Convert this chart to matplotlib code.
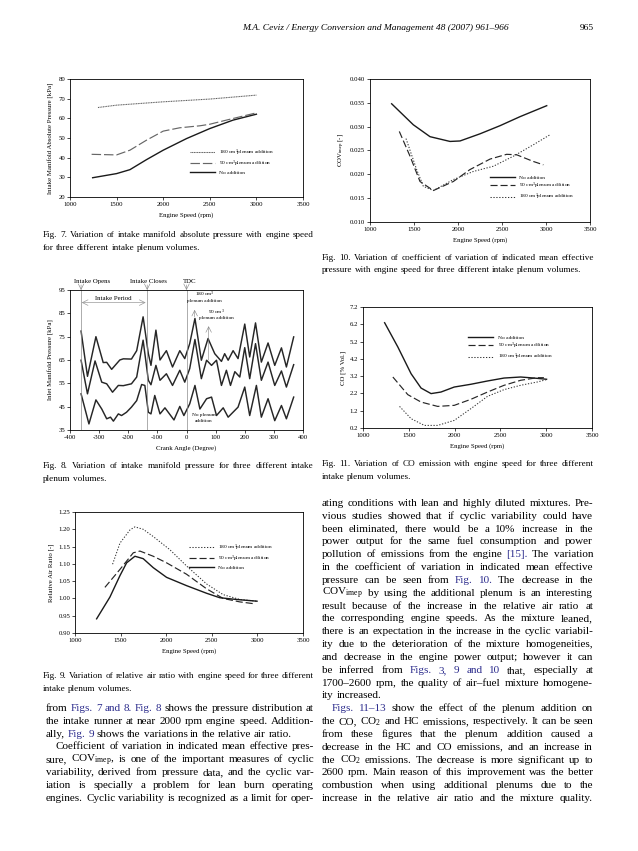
import matplotlib
matplotlib.use("Agg")
import matplotlib.pyplot as plt

plt.rcParams["font.family"] = ["Liberation Serif", "DejaVu Serif"]
plt.rcParams["mathtext.fontset"] = "custom"
plt.rcParams["mathtext.rm"] = "Liberation Serif"
plt.rcParams["mathtext.it"] = "Liberation Serif:italic"
plt.rcParams["axes.unicode_minus"] = False

W, H = 638, 851
LINK = "#2b2b8c"

# ---- Fig. 7 : intake manifold absolute pressure ----
f7_rpm_180 = [1300, 1500, 2000, 2500, 3000]
f7_p_180 = [65.5, 66.7, 68.4, 69.8, 71.8]
f7_rpm_90 = [1232, 1500, 1643, 1821, 2000, 2178, 2393, 2500, 2678, 3000]
f7_p_90 = [41.7, 41.4, 43.8, 48.9, 53.5, 55.2, 56.2, 57.0, 59.1, 62.8]
f7_rpm_no = [1243, 1500, 1643, 1821, 2000, 2250, 2500, 2750, 3000]
f7_p_no = [29.8, 31.9, 33.9, 39.0, 43.8, 49.7, 54.8, 59.1, 62.1]

# ---- Fig. 10 : COV imep ----
f10_rpm_no = [1246, 1492, 1682, 1909, 2023, 2250, 2477, 2705, 3008]
f10_cov_no = [0.0348, 0.0304, 0.0279, 0.0269, 0.0270, 0.0285, 0.0302, 0.0321, 0.0344]
f10_rpm_90 = [1333, 1455, 1568, 1720, 1947, 2136, 2364, 2553, 2667, 2856, 2970]
f10_cov_90 = [0.0290, 0.0238, 0.0185, 0.0166, 0.0185, 0.0210, 0.0232, 0.0242, 0.0241, 0.0227, 0.0220]
f10_rpm_180 = [1409, 1530, 1606, 1720, 1947, 2174, 2402, 2629, 2856, 3045]
f10_cov_180 = [0.0275, 0.0210, 0.0175, 0.0166, 0.0189, 0.0206, 0.0217, 0.0238, 0.0262, 0.0283]

# ---- Fig. 8 : manifold pressure vs crank angle ----
f8_ca_180 = [-362, -340, -311, -286, -274, -257, -229, -217, -189, -171, -149, -131, -122, -105,
             -91, -69, -48, -23, -6, 11, 29, 51, 74, 97, 120, 131, 143, 160, 177, 200, 217,
             237, 257, 280, 303, 326, 343, 368]
f8_p_180 = [77.4, 58.0, 75.0, 63.9, 64.0, 61.0, 65.0, 65.5, 65.4, 69.0, 83.5, 67.7, 62.7, 77.8,
            65.0, 69.0, 62.0, 69.0, 65.6, 72.0, 82.8, 64.9, 74.2, 67.7, 64.4, 67.7, 64.9, 69.0,
            65.6, 80.4, 66.3, 80.9, 64.1, 72.3, 62.7, 70.2, 62.0, 74.9]
f8_ca_90 = [-362, -340, -314, -291, -274, -254, -234, -217, -189, -171, -149, -131, -122, -105,
            -91, -69, -48, -23, -6, 11, 29, 51, 69, 86, 103, 120, 137, 151, 166, 183, 200, 217,
            237, 257, 280, 303, 326, 343, 368]
f8_p_90 = [64.9, 50.5, 64.6, 55.5, 54.8, 51.2, 54.1, 54.0, 54.8, 57.7, 73.5, 56.3, 54.4, 62.7,
           56.3, 59.1, 54.1, 60.6, 55.5, 61.3, 73.8, 57.0, 64.9, 62.7, 64.9, 54.1, 60.6, 54.1,
           60.0, 57.7, 70.3, 57.0, 72.0, 56.3, 64.1, 54.1, 60.3, 53.4, 63.0]
f8_ca_no = [-362, -335, -311, -291, -274, -261, -251, -234, -223, -206, -189, -171, -154, -143,
            -131, -122, -109, -91, -74, -43, -23, -9, 11, 29, 46, 69, 86, 103, 126, 143, 177,
            200, 217, 240, 257, 280, 303, 326, 343, 368]
f8_p_no = [50.5, 37.6, 47.9, 44.0, 39.8, 40.5, 38.8, 41.9, 41.2, 42.6, 44.8, 47.6, 54.5, 54.1,
           42.6, 41.9, 49.8, 41.9, 44.5, 39.3, 45.1, 41.2, 46.2, 54.1, 44.0, 48.4, 49.1, 41.2,
           44.5, 40.5, 44.8, 53.4, 41.2, 54.1, 40.5, 48.4, 39.0, 45.5, 39.8, 49.1]
f8_events = [-362, -135, 0]
f8_event_names = ["Intake Opens", "Intake Closes", "TDC"]
f8_label_x = [-324, -132, 12]

# ---- Fig. 11 : CO emission ----
f11_rpm_no = [1236, 1380, 1525, 1634, 1743, 1851, 1996, 2178, 2359, 2540, 2721, 2866, 3004]
f11_co_no = [6.29, 4.89, 3.34, 2.51, 2.19, 2.28, 2.57, 2.73, 2.92, 3.09, 3.15, 3.09, 3.02]
f11_rpm_90 = [1326, 1489, 1634, 1815, 1996, 2178, 2359, 2540, 2721, 2902, 2975]
f11_co_90 = [3.15, 2.13, 1.70, 1.45, 1.51, 1.86, 2.28, 2.67, 2.96, 3.11, 3.11]
f11_rpm_180 = [1399, 1525, 1670, 1815, 1996, 2178, 2359, 2540, 2721, 2902, 3004]
f11_co_180 = [1.45, 0.74, 0.35, 0.35, 0.64, 1.32, 2.03, 2.42, 2.67, 2.86, 3.00]

# ---- Fig. 9 : relative air ratio ----
f9_rpm_no = [1237, 1383, 1493, 1566, 1657, 1748, 1858, 2004, 2223, 2442, 2588, 2770, 2996]
f9_lam_no = [0.941, 1.004, 1.066, 1.103, 1.122, 1.115, 1.089, 1.061, 1.037, 1.015, 1.002, 0.997, 0.992]
f9_rpm_90 = [1328, 1493, 1639, 1712, 1858, 2004, 2223, 2442, 2624, 2807, 2953]
f9_lam_90 = [1.032, 1.084, 1.132, 1.137, 1.122, 1.103, 1.070, 1.028, 1.000, 0.990, 0.985]
f9_rpm_180 = [1412, 1493, 1602, 1657, 1748, 1858, 2040, 2223, 2442, 2624, 2807, 2996]
f9_lam_180 = [1.099, 1.160, 1.198, 1.207, 1.200, 1.179, 1.141, 1.094, 1.042, 1.011, 0.997, 0.992]

lab180 = "180 cm$^3$plenum addition"
lab90 = "90 cm$^3$plenum addition"
labno = "No addition"

SOLID = dict(color="0.1", lw=1.0, ls="-")
DASH = dict(color="0.15", lw=0.85, ls=(0, (6, 2.5)))
DOT = dict(color="0.2", lw=0.75, ls=(0, (1.2, 1.6)))

fig = plt.figure(figsize=(W / 100, H / 100), dpi=100)
renderer = fig.canvas.get_renderer()


def box(l, t, r, b):
    return fig.add_axes([l / W, 1 - b / H, (r - l) / W, (b - t) / H])


def style(ax, xlabel, ylabel):
    for s in ax.spines.values():
        s.set_linewidth(0.6)
    ax.tick_params(labelsize=4.9, length=2, width=0.5, pad=1.5, direction="out")
    ax.set_xlabel(xlabel, fontsize=4.9, labelpad=4)
    ax.set_ylabel(ylabel, fontsize=4.9, labelpad=3)


def legend(ax, x, y):
    ax.legend(loc="upper left", bbox_to_anchor=(x, y), frameon=False, fontsize=3.9,
              handlelength=4.6, handletextpad=0.8, labelspacing=0.2, borderaxespad=0,
              borderpad=0)


def ftext(x, y, s, **kw):
    return fig.text(x / W, 1 - y / H, s, **kw)


# Fig. 7
ax = box(70, 79, 303, 197)
ax.plot(f7_rpm_180, f7_p_180, label=lab180, **dict(DOT, ls=(0, (1, 0.6)), color="0.35"))
ax.plot(f7_rpm_90, f7_p_90, label=lab90, **dict(DASH, ls=(0, (8, 2.5)), color="0.4"))
ax.plot(f7_rpm_no, f7_p_no, label=labno, **SOLID)
ax.set_xlim(1000, 3500)
ax.set_ylim(20, 80)
ax.set_xticks(range(1000, 3501, 500))
ax.set_yticks(range(20, 81, 10))
style(ax, "Engine Speed (rpm)", "Intake Manifold Absolute Pressure [kPa]")
legend(ax, 0.515, 0.42)

# Fig. 10
ax = box(370, 79, 590, 222)
ax.plot(f10_rpm_no, f10_cov_no, label=labno, **SOLID)
ax.plot(f10_rpm_90, f10_cov_90, label=lab90, **DASH)
ax.plot(f10_rpm_180, f10_cov_180, label=lab180, **DOT)
ax.set_xlim(1000, 3500)
ax.set_ylim(0.010, 0.040)
ax.set_xticks(range(1000, 3501, 500))
ax.set_yticks([0.010, 0.015, 0.020, 0.025, 0.030, 0.035, 0.040])
ax.set_yticklabels(["%.3f" % v for v in ax.get_yticks()])
style(ax, "Engine Speed (rpm)", "COV$_{\\mathrm{imep}}$ [-]")
legend(ax, 0.545, 0.33)

# Fig. 8
ax = box(70, 290, 303, 430)
ax.plot(f8_ca_180, f8_p_180, color="0.15", lw=1.05)
ax.plot(f8_ca_90, f8_p_90, color="0.15", lw=1.05)
ax.plot(f8_ca_no, f8_p_no, color="0.15", lw=1.05)
for xv, lx, name in zip(f8_events, f8_label_x, f8_event_names):
    ax.axvline(xv, color="0.55", lw=0.5)
    ax.annotate("", xy=(xv, 95), xytext=(xv, 97.2), annotation_clip=False,
                arrowprops=dict(arrowstyle="->", lw=0.4, color="0.5", shrinkA=0, shrinkB=0))
    ax.text(lx, 97.6, name, fontsize=4.9, ha="center", va="bottom")
ax.annotate("", xy=(-360, 89.6), xytext=(-140, 89.6),
            arrowprops=dict(arrowstyle="<->", lw=0.5, color="0.6", shrinkA=0, shrinkB=0))
ax.text(-252, 90.4, "Intake Period", fontsize=4.9, ha="center", va="bottom")
ax.text(62, 93.0, "180 cm$^3$", fontsize=3.8, ha="center", va="center")
ax.text(62, 90.2, "plenum addition", fontsize=3.8, ha="center", va="center")
ax.annotate("", xy=(28, 86.5), xytext=(28, 83.5),
            arrowprops=dict(arrowstyle="->", lw=0.4, color="0.5", shrinkA=0, shrinkB=0))
ax.text(104, 85.6, "90 cm$^3$", fontsize=3.8, ha="center", va="center")
ax.text(104, 82.8, "plenum addition", fontsize=3.8, ha="center", va="center")
ax.annotate("", xy=(76, 79.5), xytext=(76, 65),
            arrowprops=dict(arrowstyle="->", lw=0.4, color="0.5", shrinkA=0, shrinkB=0))
ax.text(59, 41.4, "No plenum", fontsize=3.8, ha="center", va="center")
ax.text(59, 38.9, "addition", fontsize=3.8, ha="center", va="center")
ax.set_xlim(-400, 400)
ax.set_ylim(35, 95)
ax.set_xticks(range(-400, 401, 100))
ax.set_yticks(range(35, 96, 10))
style(ax, "Crank Angle (Degree)", "Inlet Manifold Pressure [kPa]")

# Fig. 11
ax = box(363, 307, 592, 428)
ax.plot(f11_rpm_no, f11_co_no, label=labno, **SOLID)
ax.plot(f11_rpm_90, f11_co_90, label=lab90, **DASH)
ax.plot(f11_rpm_180, f11_co_180, label=lab180, **DOT)
ax.set_xlim(1000, 3500)
ax.set_ylim(0.2, 7.2)
ax.set_xticks(range(1000, 3501, 500))
ax.set_yticks([0.2, 1.2, 2.2, 3.2, 4.2, 5.2, 6.2, 7.2])
ax.set_yticklabels(["%.1f" % v for v in ax.get_yticks()])
style(ax, "Engine Speed (rpm)", "CO [% Vol.]")
legend(ax, 0.46, 0.77)

# Fig. 9
ax = box(75, 512, 303, 633)
ax.plot(f9_rpm_180, f9_lam_180, label=lab180, **DOT)
ax.plot(f9_rpm_90, f9_lam_90, label=lab90, **DASH)
ax.plot(f9_rpm_no, f9_lam_no, label=labno, **SOLID)
ax.set_xlim(1000, 3500)
ax.set_ylim(0.90, 1.25)
ax.set_xticks(range(1000, 3501, 500))
ax.set_yticks([0.90, 0.95, 1.00, 1.05, 1.10, 1.15, 1.20, 1.25])
ax.set_yticklabels(["%.2f" % v for v in ax.get_yticks()])
style(ax, "Engine Speed (rpm)", "Relative Air Ratio [-]")
legend(ax, 0.50, 0.75)


def put_line(x0, x1, yb, line, size, justify=True, indent=0):
    objs = []
    for tok in line.split():
        color = "black"
        if tok.startswith("@"):
            tok = tok[1:]
            color = LINK
        objs.append(ftext(0, 0, tok, fontsize=size, color=color, ha="left", va="baseline"))
    widths = [t.get_window_extent(renderer).width for t in objs]
    gap = size * 100 / 72 * 0.25
    if justify and len(objs) > 1:
        gap = (x1 - x0 - indent - sum(widths)) / (len(objs) - 1)
    x = x0 + indent
    for t, w in zip(objs, widths):
        t.set_position((x / W, 1 - yb / H))
        x += w + gap


def paragraph(x0, x1, y0, lines, size, step, last):
    for i, ln in enumerate(lines):
        indent = 0
        if ln.startswith(">"):
            ln = ln[1:]
            indent = 10
        put_line(x0, x1, y0 + i * step, ln, size, justify=(i not in last), indent=indent)


# header
ftext(375, 30, "M.A. Ceviz / Energy Conversion and Management 48 (2007) 961\u2013966",
      fontsize=6.8, style="italic", ha="center", va="baseline")
ftext(594, 30, "965", fontsize=6.8, ha="right", va="baseline")

# captions
CAP = 6.6
paragraph(43, 314, 237, ["Fig. 7. Variation of intake manifold absolute pressure with engine speed",
                         "for three different intake plenum volumes."], CAP, 12.5, [1])
paragraph(322, 594, 260, ["Fig. 10. Variation of coefficient of variation of indicated mean effective",
                          "pressure with engine speed for three different intake plenum volumes."],
          CAP, 12.5, [1])
paragraph(43, 314, 468, ["Fig. 8. Variation of intake manifold pressure for three different intake",
                         "plenum volumes."], CAP, 12.5, [1])
paragraph(322, 594, 466.5, ["Fig. 11. Variation of CO emission with engine speed for three different",
                            "intake plenum volumes."], CAP, 12.5, [1])
paragraph(43, 314, 678.5, ["Fig. 9. Variation of relative air ratio with engine speed for three different",
                           "intake plenum volumes."], CAP, 12.5, [1])

left_text = [
    "from @Figs. @7 @and @8. @Fig. @8 shows the pressure distribution at",
    "the intake runner at near 2000 rpm engine speed. Addition-",
    "ally, @Fig. @9 shows the variations in the relative air ratio.",
    ">Coefficient of variation in indicated mean effective pres-",
    "sure, COV$_{\\mathrm{imep}}$, is one of the important measures of cyclic",
    "variability, derived from pressure data, and the cyclic var-",
    "iation is specially a problem for lean burn operating",
    "engines. Cyclic variability is recognized as a limit for oper-",
]
right_text = [
    "ating conditions with lean and highly diluted mixtures. Pre-",
    "vious studies showed that if cyclic variability could have",
    "been eliminated, there would be a 10% increase in the",
    "power output for the same fuel consumption and power",
    "pollution of emissions from the engine @[15]. The variation",
    "in the coefficient of variation in indicated mean effective",
    "pressure can be seen from @Fig. @10. The decrease in the",
    "COV$_{\\mathrm{imep}}$ by using the additional plenum is an interesting",
    "result because of the increase in the relative air ratio at",
    "the corresponding engine speeds. As the mixture leaned,",
    "there is an expectation in the increase in the cyclic variabil-",
    "ity due to the deterioration of the mixture homogeneities,",
    "and decrease in the engine power output; however it can",
    "be inferred from @Figs. @3, @9 @and @10 that, especially at",
    "1700\u20132600 rpm, the quality of air\u2013fuel mixture homogene-",
    "ity increased.",
    ">@Figs. @11\u201313 show the effect of the plenum addition on",
    "the CO, CO$_2$ and HC emissions, respectively. It can be seen",
    "from these figures that the plenum addition caused a",
    "decrease in the HC and CO emissions, and an increase in",
    "the CO$_2$ emissions. The decrease is more significant up to",
    "2600 rpm. Main reason of this improvement was the better",
    "combustion when using additional plenums due to the",
    "increase in the relative air ratio and the mixture quality.",
]
BODY = 8.0
paragraph(46, 314, 711, left_text, BODY, 12.8, [2])
paragraph(322, 593, 506, right_text, BODY, 12.83, [15])

fig.savefig("out.png", dpi=100)
